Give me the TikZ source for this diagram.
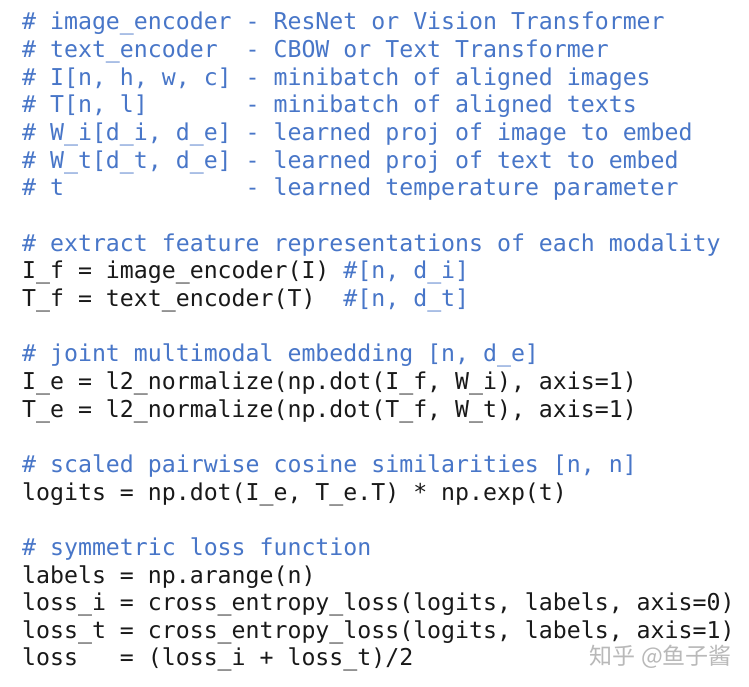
\documentclass[tikz,border=0pt]{standalone}
\usepackage{fontspec}
\setmonofont{DejaVu Sans Mono}
\newfontfamily\cjk{Noto Sans CJK SC}
\definecolor{cmt}{RGB}{72,118,200}
\definecolor{code}{RGB}{25,25,25}
\definecolor{wm}{RGB}{185,185,185}
\newcommand\codeline[3]{\node[codetext,text=#2] (l#1) at (22,{30+27.65*#1}) {#3};}
\begin{document}
\begin{tikzpicture}[x=1pt,y=-1pt,
  codetext/.style={anchor=base west,inner sep=0pt,font=\ttfamily\fontsize{23.2}{27}\selectfont}]
\useasboundingbox (0,0) rectangle (749,687);
\fill[white] (0,0) rectangle (749,687);
\codeline{0}{cmt}{\#~image\_encoder~-~ResNet~or~Vision~Transformer}
\codeline{1}{cmt}{\#~text\_encoder~~-~CBOW~or~Text~Transformer}
\codeline{2}{cmt}{\#~I[n,~h,~w,~c]~-~minibatch~of~aligned~images}
\codeline{3}{cmt}{\#~T[n,~l]~~~~~~~-~minibatch~of~aligned~texts}
\codeline{4}{cmt}{\#~W\_i[d\_i,~d\_e]~-~learned~proj~of~image~to~embed}
\codeline{5}{cmt}{\#~W\_t[d\_t,~d\_e]~-~learned~proj~of~text~to~embed}
\codeline{6}{cmt}{\#~t~~~~~~~~~~~~~-~learned~temperature~parameter}
\codeline{8}{cmt}{\#~extract~feature~representations~of~each~modality}
\codeline{9}{code}{I\_f~=~image\_encoder(I)~\textcolor{cmt}{\#[n,~d\_i]}}
\codeline{10}{code}{T\_f~=~text\_encoder(T)~~\textcolor{cmt}{\#[n,~d\_t]}}
\codeline{12}{cmt}{\#~joint~multimodal~embedding~[n,~d\_e]}
\codeline{13}{code}{I\_e~=~l2\_normalize(np.dot(I\_f,~W\_i),~axis=1)}
\codeline{14}{code}{T\_e~=~l2\_normalize(np.dot(T\_f,~W\_t),~axis=1)}
\codeline{16}{cmt}{\#~scaled~pairwise~cosine~similarities~[n,~n]}
\codeline{17}{code}{logits~=~np.dot(I\_e,~T\_e.T)~*~np.exp(t)}
\codeline{19}{cmt}{\#~symmetric~loss~function}
\codeline{20}{code}{labels~=~np.arange(n)}
\codeline{21}{code}{loss\_i~=~cross\_entropy\_loss(logits,~labels,~axis=0)}
\codeline{22}{code}{loss\_t~=~cross\_entropy\_loss(logits,~labels,~axis=1)}
\codeline{23}{code}{loss~~~=~(loss\_i~+~loss\_t)/2}
\node[anchor=base east,inner sep=0pt,text=wm,font=\cjk\fontsize{23}{27}\selectfont] (wmark) at (732,664) {知乎~@鱼子酱};
\end{tikzpicture}
\end{document}
